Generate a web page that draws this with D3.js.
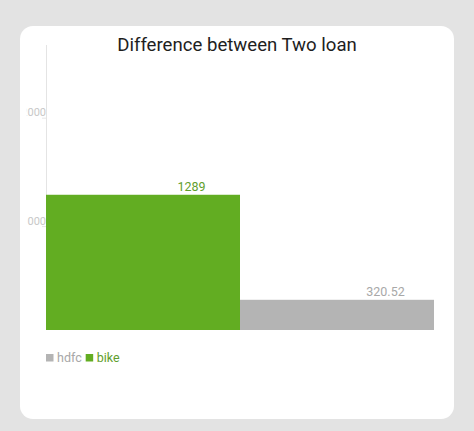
<!DOCTYPE html>
<html><head><meta charset="utf-8">
<script src="https://cdn.jsdelivr.net/npm/d3@7"></script>
<style>
html,body{margin:0;padding:0;background:#e3e3e3;}
svg{display:block;font-family:Roboto,"Noto Sans",sans-serif;}
</style></head>
<body>
<svg id="c" width="474" height="431"></svg>
<script>
const title = "Difference between Two loan";
const categories = ["bike", "hdfc"];
const values = [1289, 320.52];
const valueLabels = ["1289", "320.52"];
const seriesNames = ["hdfc", "bike"];
const yTicks = [1000, 2000];
const yTickLabels = ["1000", "2000"];

const colors = {bike: "#62ad22", hdfc: "#b4b4b4"};
const labelColors = {bike: "#5f9e2c", hdfc: "#a8a8a8"};

const svg = d3.select("#c");
svg.append("rect").attr("x",0).attr("y",0).attr("width",474).attr("height",431).attr("fill","#e3e3e3");
svg.append("rect").attr("x",20).attr("y",26).attr("width",434).attr("height",393).attr("rx",13).attr("fill","#ffffff");

svg.append("defs").append("clipPath").attr("id","clip")
  .append("rect").attr("x",26.8).attr("y",26).attr("width",427).attr("height",393);

const root = svg.append("g").attr("clip-path","url(#clip)");

const x = d3.scaleBand().domain(categories).range([46, 434]).padding(0);
const y = d3.scaleLinear().domain([42, 2670]).range([330, 45]);

root.append("text").attr("x",237).attr("y",51).attr("text-anchor","middle")
  .attr("font-size",18.6).attr("fill","#1e1e1e").text(title);

// y axis
const yAxis = d3.axisLeft(y).tickValues(yTicks).tickFormat((d,i)=>yTickLabels[i]).tickSize(4).tickPadding(0);
const ga = root.append("g").attr("transform","translate(46,0)").call(yAxis);
ga.select(".domain").remove();
ga.selectAll(".tick line").attr("stroke","#e6e6e6");
ga.selectAll(".tick text").attr("fill","#c8c8c8").attr("font-size",11)
  .attr("font-family","Roboto,sans-serif").attr("dy","-2").attr("x",0).attr("text-anchor","end");
root.append("line").attr("x1",46.5).attr("x2",46.5).attr("y1",y.range()[1]).attr("y2",y.range()[0])
  .attr("stroke","#e4e4e4");

// bars
root.selectAll("rect.bar").data(categories).enter().append("rect").attr("class","bar")
  .attr("x",d=>x(d)).attr("width",x.bandwidth())
  .attr("y",(d,i)=>y(values[i])).attr("height",(d,i)=>y.range()[0]-y(values[i]))
  .attr("fill",d=>colors[d]);

root.selectAll("text.vl").data(categories).enter().append("text").attr("class","vl")
  .attr("x",d=>x(d)+x.bandwidth()*0.75).attr("y",(d,i)=>y(values[i])-3.5)
  .attr("text-anchor","middle").attr("font-size",12.5).attr("fill",d=>labelColors[d])
  .text((d,i)=>valueLabels[i]);

// legend
const lg = root.append("g").attr("transform","translate(46,354)");
let lx = 0;
seriesNames.forEach(s=>{
  lg.append("rect").attr("x",lx).attr("y",0).attr("width",7.5).attr("height",7.5).attr("fill",colors[s]);
  const t = lg.append("text").attr("x",lx+11).attr("y",7.5).attr("font-size",12.5)
    .attr("fill",labelColors[s]).text(s);
  lx += 11 + t.node().getComputedTextLength() + 4;
});
</script>
</body></html>
